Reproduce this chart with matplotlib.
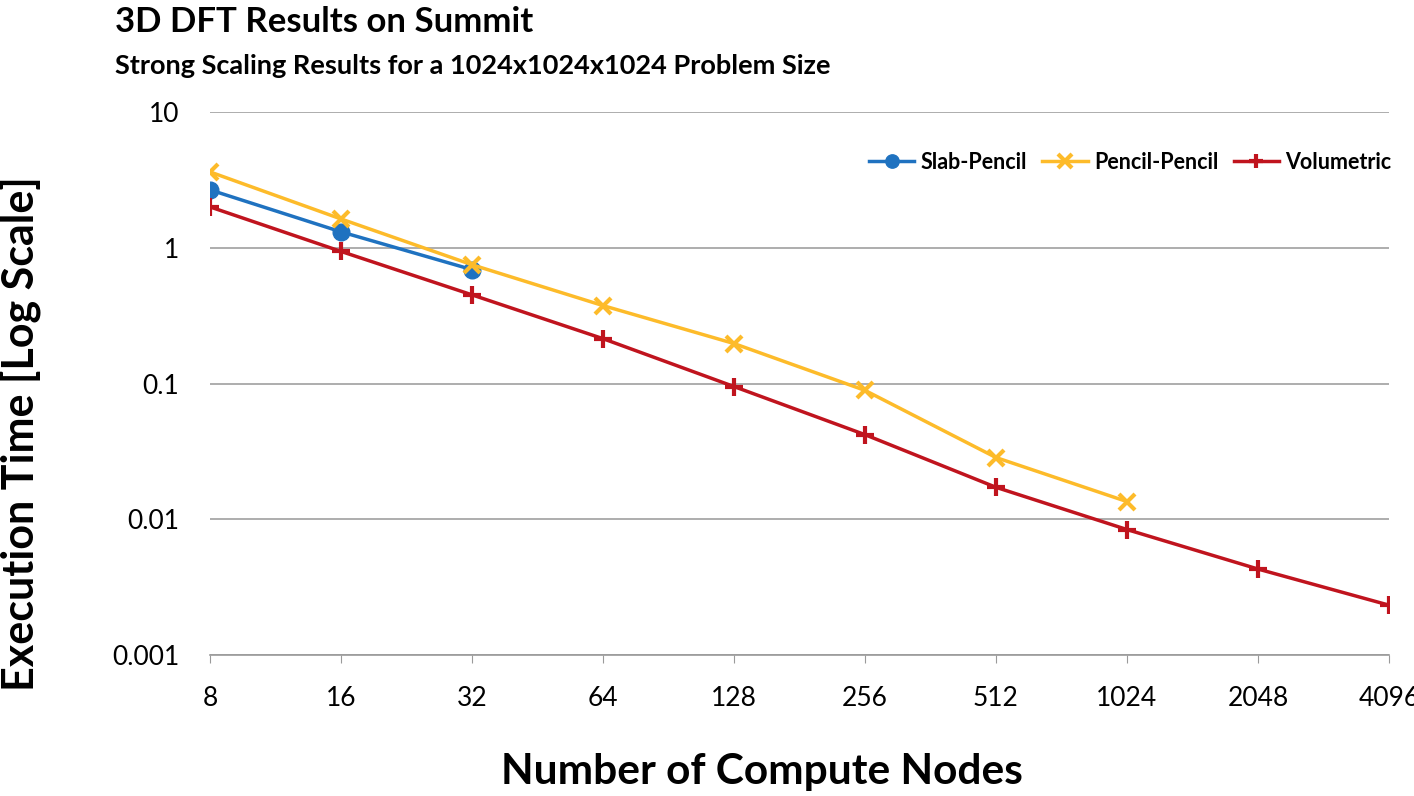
import matplotlib.pyplot as plt

plt.rcParams['font.family'] = ['Lato', 'DejaVu Sans']

nodes = ['8', '16', '32', '64', '128', '256', '512', '1024', '2048', '4096']
slab_pencil = [2.67, 1.31, 0.69]
pencil_pencil = [3.62, 1.63, 0.75, 0.375, 0.197, 0.089, 0.0285, 0.0135]
volumetric = [2.0, 0.94, 0.45, 0.214, 0.095, 0.042, 0.0172, 0.0084, 0.0043, 0.00233]

fig = plt.figure(figsize=(14.14, 7.96), dpi=100)
ax = fig.add_axes([0.1485, 0.1771, 0.8338, 0.6822])

ax.plot(range(len(slab_pencil)), slab_pencil, color='#1f72c0', lw=2.5,
        marker='o', ms=12, label='Slab-Pencil')
ax.plot(range(len(pencil_pencil)), pencil_pencil, color='#fdbb2a', lw=2.5,
        marker='x', ms=12, mew=3, label='Pencil-Pencil')
ax.plot(range(len(volumetric)), volumetric, color='#c0141e', lw=2.5,
        marker='+', ms=13, mew=3, label='Volumetric')

ax.set_yscale('log')
ax.set_ylim(0.001, 10)
ax.set_xlim(0, len(nodes) - 1)
ax.set_yticks([0.001, 0.01, 0.1, 1, 10])
ax.set_yticklabels(['0.001', '0.01', '0.1', '1', '10'])
ax.minorticks_off()
ax.set_xticks(range(len(nodes)))
ax.set_xticklabels(nodes)
ax.tick_params(axis='both', labelsize=19, length=0)
ax.tick_params(axis='x', length=6, color='#9a9a9a', pad=16)
ax.tick_params(axis='y', pad=22)

ax.grid(axis='y', color='#a0a0a0', lw=1.2)
ax.set_axisbelow(True)
for s in ['left', 'right', 'top']:
    ax.spines[s].set_visible(False)
ax.spines['bottom'].set_color('#9a9a9a')
ax.spines['bottom'].set_linewidth(1.2)

fig.text(0.081, 0.972, '3D DFT Results on Summit', fontsize=25, fontweight='bold',
         va='center', ha='left')
fig.text(0.081, 0.917, 'Strong Scaling Results for a 1024x1024x1024 Problem Size',
         fontsize=19.5, fontweight='bold', va='center', ha='left')
fig.text(0.539, 0.03, 'Number of Compute Nodes', fontsize=30.5, fontweight='bold',
         ha='center', va='center')
fig.text(0.0145, 0.455, 'Execution Time [Log Scale]', fontsize=31, fontweight='bold',
         rotation=90, ha='center', va='center')

ax.legend(loc='center left', bbox_to_anchor=(0.601, 0.796), bbox_transform=fig.transFigure,
          ncol=3, frameon=False, prop={'weight': 'bold', 'size': 15.5},
          handlelength=2.1, columnspacing=0.7, handletextpad=0.3, markerscale=0.8)

fig.savefig('out.png', dpi=100)
